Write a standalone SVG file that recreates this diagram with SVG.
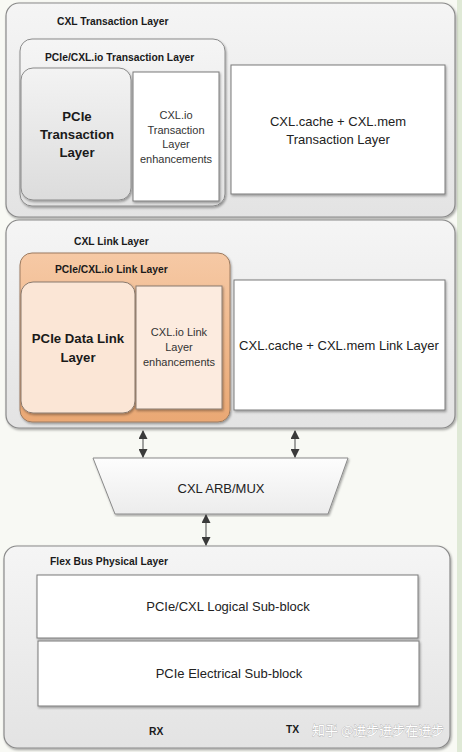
<svg xmlns="http://www.w3.org/2000/svg" width="462" height="752" viewBox="0 0 462 752">
<defs>
<linearGradient id="gOuter" x1="0" y1="0" x2="0" y2="1"><stop offset="0" stop-color="#f5f5f5"/><stop offset="1" stop-color="#e3e3e3"/></linearGradient>
<linearGradient id="gPcie" x1="0" y1="0" x2="0" y2="1"><stop offset="0" stop-color="#f3f3f3"/><stop offset="1" stop-color="#dcdcdc"/></linearGradient>
<linearGradient id="gOrange" x1="0" y1="0" x2="0" y2="1"><stop offset="0" stop-color="#f6c9a5"/><stop offset="1" stop-color="#eaa874"/></linearGradient>
<linearGradient id="gTrap" x1="0" y1="0" x2="0" y2="1"><stop offset="0" stop-color="#fdfdfd"/><stop offset="1" stop-color="#ececec"/></linearGradient>
<marker id="ah" viewBox="0 0 10 10" refX="9" refY="5" markerWidth="10" markerHeight="9" markerUnits="userSpaceOnUse" orient="auto-start-reverse"><path d="M0,0 L10,5 L0,10 z" fill="#3a3a3a"/></marker>
<filter id="sh" x="-5%" y="-5%" width="110%" height="110%"><feDropShadow dx="1" dy="1.5" stdDeviation="0.8" flood-color="#000" flood-opacity="0.35"/></filter>
</defs>
<style>
.outer{fill:url(#gOuter);stroke:#8a8a8a;stroke-width:1.2;filter:url(#sh)}
.inner{fill:url(#gOuter);stroke:#8a8a8a;stroke-width:1}
.white{fill:#fff;stroke:#7a7a7a;stroke-width:1;filter:url(#sh)}
.lbl{font-family:"Liberation Sans",Arial,sans-serif;font-weight:bold;font-size:10.3px;fill:#1a1a1a}
.big{font-family:"Liberation Sans",Arial,sans-serif;font-weight:bold;font-size:13.2px;fill:#1a1a1a;text-anchor:middle}
.sm{font-family:"Liberation Sans",Arial,sans-serif;font-size:11px;fill:#333;text-anchor:middle}
.md{font-family:"Liberation Sans",Arial,sans-serif;font-size:13px;fill:#222;text-anchor:middle}
.conn{stroke:#666;stroke-width:1.2;fill:none;marker-start:url(#ah);marker-end:url(#ah)}
</style>
<rect x="0" y="0" width="462" height="752" fill="#f8f9f4"/>
<rect x="457" y="0" width="5" height="752" fill="#dfe9d6"/>

<g id="cxl-transaction-layer">
<rect class="outer" x="6" y="3" width="449" height="214" rx="13"/>
<text class="lbl" x="57" y="25">CXL Transaction Layer</text>
</g>
<g id="pcie-cxlio-transaction-layer">
<rect class="inner" x="20" y="39" width="205" height="167" rx="12" filter="url(#sh)"/>
<text class="lbl" x="45" y="61">PCIe/CXL.io Transaction Layer</text>
</g>
<g id="pcie-transaction-layer">
<rect x="21" y="68" width="110" height="132" rx="12" fill="url(#gPcie)" stroke="#8a8a8a" filter="url(#sh)"/>
<text class="big"><tspan x="77" y="121">PCIe</tspan><tspan x="77" y="139">Transaction</tspan><tspan x="77" y="157">Layer</tspan></text>
</g>
<g id="cxlio-transaction-enh">
<rect class="white" x="133" y="72" width="86" height="129"/>
<text class="sm"><tspan x="176" y="119">CXL.io</tspan><tspan x="176" y="133.5">Transaction</tspan><tspan x="176" y="148">Layer</tspan><tspan x="176" y="162.5">enhancements</tspan></text>
</g>
<g id="cxl-cache-mem-transaction">
<rect class="white" x="231" y="65" width="214" height="129"/>
<text class="md"><tspan x="338" y="126">CXL.cache + CXL.mem</tspan><tspan x="338" y="144">Transaction Layer</tspan></text>
</g>

<g id="cxl-link-layer">
<rect class="outer" x="6" y="220" width="449" height="208" rx="13"/>
<text class="lbl" x="74" y="245">CXL Link Layer</text>
</g>
<g id="pcie-cxlio-link-layer">
<rect x="20" y="253" width="210" height="169" rx="12" fill="url(#gOrange)" stroke="#9c7b60" filter="url(#sh)"/>
<text class="lbl" x="55" y="273">PCIe/CXL.io Link Layer</text>
</g>
<g id="pcie-data-link-layer">
<rect x="21" y="282" width="114" height="131" rx="12" fill="#fbe6d6" stroke="#8a7a6e" filter="url(#sh)"/>
<text class="big"><tspan x="78" y="343">PCIe Data Link</tspan><tspan x="78" y="362">Layer</tspan></text>
</g>
<g id="cxlio-link-enh">
<rect x="136" y="286" width="86" height="123" fill="#fcebdf" stroke="#8a7a6e" filter="url(#sh)"/>
<text class="sm"><tspan x="179" y="336">CXL.io Link</tspan><tspan x="179" y="351">Layer</tspan><tspan x="179" y="366">enhancements</tspan></text>
</g>
<g id="cxl-cache-mem-link">
<rect class="white" x="234" y="280" width="211" height="130"/>
<text class="md" x="339" y="350">CXL.cache + CXL.mem Link Layer</text>
</g>

<g id="arb-mux">
<path d="M93,458 L348,458 L328,514 L115,514 Z" fill="url(#gTrap)" stroke="#8a8a8a" stroke-width="1" filter="url(#sh)"/>
<text class="md" x="221" y="493">CXL ARB/MUX</text>
</g>

<g id="flex-bus-physical-layer">
<rect class="outer" x="4" y="546" width="446" height="202" rx="13"/>
<text class="lbl" x="50" y="565">Flex Bus Physical Layer</text>
<text class="lbl" x="149" y="735">RX</text>
<text class="lbl" x="286" y="733">TX</text>
<text x="312" y="735" font-family="'Noto Sans CJK SC',sans-serif" font-size="13" fill="#ffffff" stroke="#a8a8a8" stroke-width="0.6" paint-order="stroke">知乎 @进步进步在进步</text>
</g>
<g id="logical-sub-block">
<rect class="white" x="37" y="575" width="381" height="63"/>
<text class="md" x="228" y="611">PCIe/CXL Logical Sub-block</text>
</g>
<g id="electrical-sub-block">
<rect class="white" x="38" y="641" width="381" height="65"/>
<text class="md" x="229" y="678">PCIe Electrical Sub-block</text>
</g>

<g id="connectors">
<line class="conn" x1="143" y1="431" x2="143" y2="457"/>
<line class="conn" x1="295" y1="431" x2="295" y2="457"/>
<line class="conn" x1="206" y1="515" x2="206" y2="545"/>
</g>
</svg>
